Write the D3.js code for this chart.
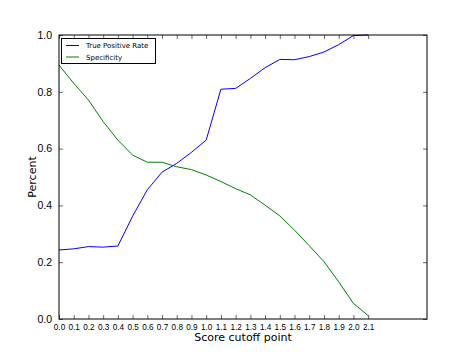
<!DOCTYPE html>
<html><head><meta charset="utf-8">
<script src="https://cdn.jsdelivr.net/npm/d3@7"></script>
<style>body{margin:0;background:#fff;} svg{display:block;font-family:"DejaVu Sans",sans-serif;}</style>
</head><body>
<svg id="c" width="474" height="355"></svg>
<script>
const cutoffs = [0.0,0.1,0.2,0.3,0.4,0.5,0.6,0.7,0.8,0.9,1.0,1.1,1.2,1.3,1.4,1.5,1.6,1.7,1.8,1.9,2.0,2.1];
const tpr = [0.243,0.247,0.255,0.253,0.257,0.362,0.455,0.517,0.548,0.587,0.630,0.809,0.812,0.847,0.885,0.914,0.913,0.924,0.940,0.966,0.998,1.0];
const specificity = [0.894,0.830,0.771,0.695,0.630,0.577,0.552,0.552,0.536,0.526,0.507,0.484,0.459,0.437,0.401,0.363,0.313,0.258,0.202,0.131,0.055,0.012];
const xTicks = cutoffs;
const yTicks = [0.0,0.2,0.4,0.6,0.8,1.0];
const seriesNames = ["True Positive Rate","Specificity"];
const colors = ["#0000ff","#008000"];

const svg = d3.select("#c");
const L=59, R=427, T=35, B=319;
const x = d3.scaleLinear().domain([0,2.5]).range([L,R]);
const y = d3.scaleLinear().domain([0,1]).range([B,T]);

// lines
const series = [tpr, specificity];
series.forEach((s,i)=>{
  svg.append("path")
    .datum(s.map((v,j)=>[cutoffs[j],v]))
    .attr("fill","none").attr("stroke",colors[i]).attr("stroke-width",1)
    .attr("d", d3.line().x(d=>x(d[0])).y(d=>y(d[1])));
});

// axes with inward ticks
const fmt = d3.format(".1f");
const gB = svg.append("g").attr("transform",`translate(0,${B})`)
  .call(d3.axisBottom(x).tickValues(xTicks).tickFormat(fmt).tickSizeInner(-4).tickSizeOuter(0).tickPadding(5));
gB.selectAll("text").attr("font-size",8.2).attr("fill","#000");
const gT = svg.append("g").attr("transform",`translate(0,${T})`)
  .call(d3.axisTop(x).tickValues(xTicks).tickFormat("").tickSizeInner(-4).tickSizeOuter(0));
const gL = svg.append("g").attr("transform",`translate(${L},0)`)
  .call(d3.axisLeft(y).tickValues(yTicks).tickFormat(fmt).tickSizeInner(-4).tickSizeOuter(0).tickPadding(7));
gL.selectAll("text").attr("font-size",10.5).attr("fill","#000");
const gR = svg.append("g").attr("transform",`translate(${R},0)`)
  .call(d3.axisRight(y).tickValues(yTicks).tickFormat("").tickSizeInner(-4).tickSizeOuter(0));
[gB,gT,gL,gR].forEach(g=>{g.select(".domain").remove(); g.selectAll("line").attr("stroke","#000").attr("stroke-width",0.6);});

svg.append("rect").attr("x",L).attr("y",T).attr("width",R-L).attr("height",B-T)
  .attr("fill","none").attr("stroke","#000").attr("stroke-width",1);

// labels
svg.append("text").attr("x",(L+R)/2).attr("y",341).attr("text-anchor","middle")
  .attr("font-size",11).text("Score cutoff point");
svg.append("text").attr("transform",`translate(36,${(T+B)/2}) rotate(-90)`).attr("text-anchor","middle")
  .attr("font-size",11).text("Percent");

// legend
const lg = svg.append("g");
lg.append("rect").attr("x",61.5).attr("y",38.5).attr("width",94).attr("height",25)
  .attr("fill","#fff").attr("stroke","#000").attr("stroke-width",1);
seriesNames.forEach((n,i)=>{
  const yy = 45.5 + i*11.5;
  lg.append("line").attr("x1",66).attr("x2",79).attr("y1",yy).attr("y2",yy).attr("stroke",colors[i]).attr("stroke-width",1);
  lg.append("text").attr("x",86).attr("y",yy+2.5).attr("font-size",7).text(n);
});
</script>
</body></html>
